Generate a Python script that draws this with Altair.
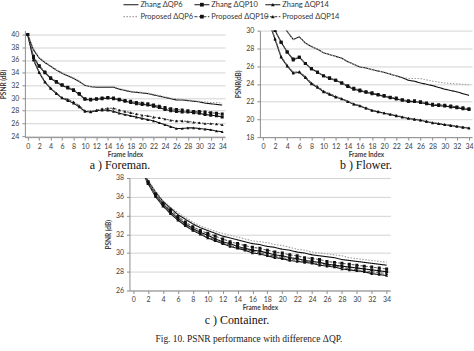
import altair as alt
import pandas as pd

frames = list(range(35))
series = ["Zhang ΔQP6", "Proposed ΔQP6", "Zhang ΔQP10", "Proposed ΔQP10", "Zhang ΔQP14", "Proposed ΔQP14"]

# Foreman
fore_z6 = [40.0, 37.6, 36.3, 35.6, 35.0, 34.4, 33.9, 33.5, 33.1, 32.6, 32.0, 31.8, 31.7, 31.7, 31.7, 31.7, 31.4, 31.2, 31.0, 30.9, 30.8, 30.7, 30.5, 30.3, 30.1, 29.9, 29.7, 29.7, 29.6, 29.5, 29.4, 29.2, 29.1, 29.0, 28.9]
fore_p6 = [40.0, 37.8, 36.4, 35.7, 35.1, 34.5, 34.0, 33.6, 33.2, 32.7, 32.0, 31.8, 31.8, 31.8, 31.8, 31.8, 31.5, 31.3, 31.1, 31.0, 30.9, 30.8, 30.6, 30.4, 30.2, 30.0, 29.9, 29.8, 29.7, 29.6, 29.5, 29.4, 29.3, 29.3, 29.2]
fore_z10 = [40.0, 36.4, 35.0, 34.0, 33.1, 32.5, 32.0, 31.6, 31.2, 30.6, 29.8, 29.7, 29.8, 29.9, 30.0, 29.9, 29.7, 29.5, 29.3, 29.1, 29.0, 28.9, 28.7, 28.5, 28.2, 28.0, 27.9, 27.8, 27.8, 27.7, 27.6, 27.4, 27.3, 27.2, 27.0]
fore_p10 = [40.0, 36.6, 35.1, 34.1, 33.2, 32.6, 32.1, 31.7, 31.3, 30.7, 29.9, 29.8, 29.9, 30.0, 30.1, 30.0, 29.8, 29.6, 29.5, 29.3, 29.2, 29.1, 28.9, 28.7, 28.5, 28.3, 28.2, 28.1, 28.0, 27.9, 27.9, 27.8, 27.7, 27.6, 27.5]
fore_z14 = [40.0, 36.0, 34.0, 32.5, 31.5, 30.7, 30.0, 29.6, 29.2, 28.6, 27.9, 27.8, 28.0, 28.1, 28.1, 27.9, 27.6, 27.4, 27.2, 27.0, 26.8, 26.6, 26.4, 26.1, 25.8, 25.5, 25.2, 25.2, 25.3, 25.3, 25.2, 25.1, 25.0, 24.8, 24.7]
fore_p14 = [40.0, 36.1, 34.1, 32.6, 31.6, 30.8, 30.1, 29.8, 29.4, 28.8, 28.0, 27.9, 28.1, 28.3, 28.4, 28.4, 28.1, 27.9, 27.7, 27.5, 27.3, 27.2, 27.0, 26.9, 26.7, 26.5, 26.4, 26.4, 26.3, 26.2, 26.1, 26.0, 26.0, 25.9, 25.8]

# Flower
flow_z6 = [37.0, 34.5, 32.5, 31.0, 29.9, 29.0, 29.3, 28.6, 28.2, 27.9, 27.5, 27.3, 27.1, 26.9, 26.5, 26.2, 25.9, 25.8, 25.6, 25.45, 25.3, 25.1, 24.9, 24.7, 24.4, 24.3, 24.1, 23.95, 23.8, 23.6, 23.4, 23.25, 23.1, 22.9, 22.7]
flow_p6 = [37.0, 34.5, 32.5, 31.0, 29.9, 29.0, 29.3, 28.6, 28.2, 27.9, 27.5, 27.3, 27.1, 26.9, 26.5, 26.2, 25.9, 25.8, 25.6, 25.45, 25.3, 25.1, 24.9, 24.75, 24.6, 24.6, 24.6, 24.45, 24.3, 24.2, 24.1, 24.05, 24.0, 23.95, 23.9]
flow_z10 = [35.0, 32.0, 30.0, 28.7, 27.6, 26.7, 27.0, 26.3, 25.7, 25.3, 24.9, 24.6, 24.4, 24.1, 23.7, 23.4, 23.2, 23.05, 22.9, 22.75, 22.6, 22.45, 22.3, 22.15, 22.0, 22.0, 21.9, 21.75, 21.6, 21.55, 21.5, 21.4, 21.3, 21.2, 21.1]
flow_p10 = [35.0, 32.0, 30.0, 28.7, 27.6, 26.8, 27.0, 26.3, 25.7, 25.3, 24.9, 24.7, 24.4, 24.1, 23.8, 23.5, 23.3, 23.1, 23.0, 22.8, 22.7, 22.5, 22.4, 22.2, 22.1, 22.1, 22.0, 21.85, 21.7, 21.65, 21.6, 21.5, 21.4, 21.3, 21.2]
flow_z14 = [34.0, 31.0, 29.0, 27.0, 26.0, 25.2, 25.3, 24.7, 24.0, 23.6, 23.1, 22.8, 22.5, 22.3, 22.0, 21.7, 21.5, 21.25, 21.0, 20.85, 20.7, 20.55, 20.4, 20.25, 20.1, 20.0, 19.9, 19.75, 19.6, 19.5, 19.4, 19.3, 19.2, 19.1, 19.0]
flow_p14 = [34.0, 31.0, 29.1, 27.1, 26.1, 25.3, 25.4, 24.8, 24.1, 23.7, 23.2, 22.9, 22.6, 22.35, 22.05, 21.75, 21.55, 21.3, 21.05, 20.9, 20.75, 20.6, 20.45, 20.3, 20.15, 20.05, 19.95, 19.8, 19.65, 19.55, 19.45, 19.35, 19.25, 19.15, 19.05]

# Container
cont_z6 = [41.1, 39.2, 37.7, 36.5, 35.5, 34.8, 34.1, 33.6, 33.1, 32.7, 32.4, 32.1, 31.8, 31.6, 31.4, 31.2, 31.0, 30.9, 30.7, 30.6, 30.4, 30.3, 30.1, 30.0, 29.8, 29.7, 29.6, 29.5, 29.3, 29.2, 29.1, 29.0, 28.9, 28.8, 28.7]
cont_p6 = [41.2, 39.3, 37.8, 36.6, 35.6, 34.9, 34.3, 33.8, 33.3, 32.9, 32.6, 32.3, 32.1, 31.9, 31.7, 31.5, 31.3, 31.2, 31.1, 30.9, 30.8, 30.6, 30.4, 30.3, 30.1, 30.0, 29.9, 29.8, 29.7, 29.5, 29.4, 29.3, 29.2, 29.1, 29.0]
cont_z10 = [41.0, 39.1, 37.5, 36.2, 35.2, 34.4, 33.7, 33.1, 32.6, 32.2, 31.9, 31.5, 31.2, 31.0, 30.7, 30.5, 30.3, 30.2, 30.0, 29.8, 29.7, 29.5, 29.4, 29.2, 29.1, 29.0, 28.8, 28.7, 28.6, 28.5, 28.4, 28.3, 28.2, 28.1, 28.0]
cont_p10 = [41.1, 39.2, 37.6, 36.3, 35.3, 34.6, 33.9, 33.3, 32.8, 32.4, 32.1, 31.8, 31.5, 31.2, 31.0, 30.8, 30.6, 30.5, 30.3, 30.1, 30.0, 29.8, 29.7, 29.5, 29.4, 29.3, 29.1, 29.0, 28.9, 28.8, 28.7, 28.6, 28.5, 28.4, 28.3]
cont_z14 = [41.0, 39.0, 37.4, 36.0, 35.0, 34.2, 33.5, 32.9, 32.4, 32.0, 31.6, 31.3, 31.0, 30.7, 30.5, 30.3, 30.0, 29.9, 29.7, 29.5, 29.4, 29.2, 29.1, 29.0, 28.9, 28.7, 28.6, 28.5, 28.3, 28.2, 28.1, 28.0, 27.8, 27.7, 27.6]
cont_p14 = [41.0, 39.0, 37.4, 36.1, 35.1, 34.3, 33.6, 33.0, 32.5, 32.1, 31.7, 31.4, 31.1, 30.8, 30.6, 30.4, 30.2, 30.0, 29.8, 29.7, 29.5, 29.4, 29.2, 29.1, 29.0, 28.8, 28.7, 28.6, 28.5, 28.3, 28.2, 28.1, 28.0, 27.9, 27.8]

x_ticks = list(range(0, 35, 2))
legend_cols = [0, 1, 2, 0, 1, 2]
legend_rows = [0, 0, 0, 1, 1, 1]
legend_order = ["Zhang ΔQP6", "Zhang ΔQP10", "Zhang ΔQP14", "Proposed ΔQP6", "Proposed ΔQP10", "Proposed ΔQP14"]

marker_series = ["Zhang ΔQP10", "Proposed ΔQP10", "Zhang ΔQP14", "Proposed ΔQP14"]
line_colors = ["#111111", "#a0a0a0", "#111111", "#606060", "#111111", "#606060"]
line_dashes = [[1, 0], [1.5, 1.5], [1, 0], [3, 1.5], [1, 0], [3, 1.5]]
marker_shapes = ["square", "square", "triangle-up", "triangle-up"]


def long_df(values):
    rows = []
    for name, vals in zip(series, values):
        for f, v in zip(frames, vals):
            rows.append({"frame": f, "psnr": v, "series": name})
    return pd.DataFrame(rows)


color_enc = alt.Color("series:N", scale=alt.Scale(domain=series, range=line_colors), legend=None)
dash_enc = alt.StrokeDash("series:N", scale=alt.Scale(domain=series, range=line_dashes), legend=None)
shape_enc = alt.Shape("series:N", scale=alt.Scale(domain=marker_series, range=marker_shapes), legend=None)

LABEL_FONT = "Lato"
SERIF = "Liberation Serif"


def panel_layer(values, ydom, yvals, ytitle):
    df = long_df(values)
    base = alt.Chart(df)
    x = alt.X("frame:Q", scale=alt.Scale(domain=[-0.5, 34.5], nice=False, zero=False),
              axis=alt.Axis(values=x_ticks, title="Frame Index", labelAngle=0, grid=False,
                            labelFontSize=7, titleFontSize=6.5, titleFontWeight="bold",
                            labelPadding=2, titlePadding=2, tickSize=3))
    y = alt.Y("psnr:Q", scale=alt.Scale(domain=ydom, nice=False, zero=False),
              axis=alt.Axis(values=yvals, title=ytitle, grid=True, labelFontSize=7,
                            titleFontSize=6.5, titleFontWeight="bold", labelPadding=3,
                            titlePadding=4, tickSize=3))
    lines = base.mark_line(clip=True, strokeWidth=1.1).encode(
        x=x, y=y, color=color_enc, strokeDash=dash_enc, order="frame:Q")
    pts = base.transform_filter(alt.FieldOneOfPredicate(field="series", oneOf=marker_series)).mark_point(
        filled=True, size=9, clip=True, opacity=1, color="#111111").encode(x=x, y=y, shape=shape_enc)
    return alt.layer(lines, pts)


def caption(text, dx, offset=2):
    return alt.TitleParams(text, orient="bottom", font=SERIF, fontSize=12, fontWeight="normal",
                           color="#111111", dx=dx, offset=offset)


# legend (drawn above panel a, placed with its own scales)
leg_df = pd.DataFrame({"series": legend_order, "col": legend_cols, "row": legend_rows})
lx = alt.X("col:Q", scale=alt.Scale(domain=[0, 2], range=[106.5, 249]), axis=None)
ly = alt.Y("row:Q", scale=alt.Scale(domain=[0, 1], range=[-26, -14]), axis=None)
leg_base = alt.Chart(leg_df)
leg_line = leg_base.mark_point(shape="M-1,0H1", size=225, filled=False, strokeWidth=1.1, opacity=1).encode(
    x=lx, y=ly,
    stroke=alt.Stroke("series:N", scale=alt.Scale(domain=series, range=line_colors), legend=None),
    strokeDash=dash_enc)
leg_mark = leg_base.transform_filter(alt.FieldOneOfPredicate(field="series", oneOf=marker_series)).mark_point(
    filled=True, size=14, opacity=1, color="#111111").encode(x=lx, y=ly, shape=shape_enc)
leg_text = leg_base.mark_text(align="left", baseline="middle", dx=9.5, fontSize=7.5, font=LABEL_FONT,
                              color="#333333").encode(x=lx, y=ly, text="series:N")
legend_layer = alt.layer(leg_line, leg_mark, leg_text)

chart_a = alt.layer(
    panel_layer([fore_z6, fore_p6, fore_z10, fore_p10, fore_z14, fore_p14],
                [23.84, 40.63], list(range(24, 41, 2)), "PSNR (dB)"),
    legend_layer
).resolve_scale(x="independent", y="independent").properties(
    width=201, height=107, title=caption("a ) Foreman.", -5))

chart_b = panel_layer([flow_z6, flow_p6, flow_z10, flow_p10, flow_z14, flow_p14],
                      [18, 30], list(range(18, 31, 2)), "PSNR(dB)").properties(
    width=213, height=107, title=caption("b ) Flower.", 0))

chart_c = panel_layer([cont_z6, cont_p6, cont_z10, cont_p10, cont_z14, cont_p14],
                      [26, 38], list(range(26, 39, 2)), "PSNR (dB)").properties(
    width=262, height=113, title=caption("c ) Container.", -23, 4))

spacer = alt.Chart(pd.DataFrame({"v": [0]})).mark_point(opacity=0).encode(
    x=alt.X("v:Q", axis=None), y=alt.Y("v:Q", axis=None)).properties(width=80, height=10)

row_ab = alt.hconcat(chart_a, chart_b, spacing=35, bounds="flush")
row_c = alt.hconcat(spacer, chart_c, spacing=0)

chart = alt.vconcat(row_ab, row_c, spacing=3).properties(
    padding={"left": 0, "top": 0, "right": 0, "bottom": 0},
    title=alt.TitleParams("Fig. 10.  PSNR performance with difference ΔQP.", orient="bottom",
                          font=SERIF, fontSize=9.5, fontWeight="normal", color="#222222",
                          anchor="middle", dx=12, offset=8)
).configure_view(stroke=None).configure_axis(
    labelFont=LABEL_FONT, titleFont=LABEL_FONT, labelColor="#404040", titleColor="#404040",
    domainColor="#8c8c8c", tickColor="#8c8c8c", gridColor="#c8c8c8", gridWidth=0.8
)

chart.save("out.html", embed_options={"renderer": "svg", "actions": False})
